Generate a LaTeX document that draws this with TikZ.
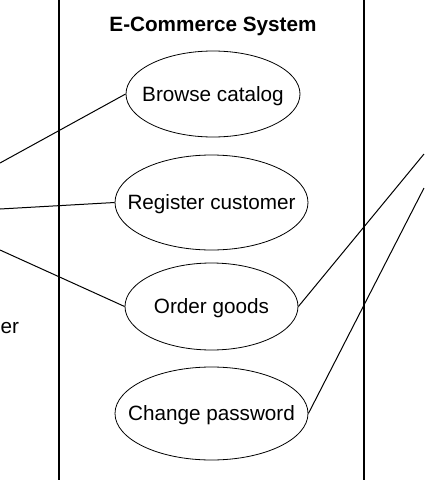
\documentclass[tikz,border=0pt]{standalone}
\usepackage{fontspec}
\setmainfont{Liberation Sans}
\usetikzlibrary{shapes.geometric}
\begin{document}
\begin{tikzpicture}[x=1pt,y=-1pt,
  usecase/.style={draw, ellipse, line width=0.8pt, inner xsep=-20pt, inner ysep=0pt, text height=14.8pt, text depth=0pt, font=\fontsize{20.7}{24}\selectfont},
  boundary/.style={line width=1.1pt},
  assoc/.style={line width=1pt},
  lbl/.style={font=\fontsize{20.7}{24}\selectfont, inner sep=0pt}]
\useasboundingbox (0,0) rectangle (424,480);
\coordinate (bt1) at (59,0);
\coordinate (bb1) at (59,480);
\coordinate (bt2) at (364,0);
\coordinate (bb2) at (364,480);
\draw[boundary] (bt1) -- (bb1);
\draw[boundary] (bt2) -- (bb2);
\node[lbl, font=\fontsize{20.7}{24}\selectfont\bfseries, anchor=base] (title) at (213,31) {E-Commerce System};
\node[usecase, minimum width=174pt, minimum height=86pt] (browse) at (213,94) {Browse catalog};
\node[usecase, minimum width=193pt, minimum height=95pt] (register) at (211.5,202.5) {Register customer};
\node[usecase, minimum width=173pt, minimum height=87pt] (order) at (211.5,306.5) {Order goods};
\node[usecase, minimum width=193pt, minimum height=93pt] (change) at (211.5,413.5) {Change password};
\node[lbl, anchor=base west] (cust) at (0.5,333) {er};
\coordinate (l1) at (0,163);
\coordinate (l2) at (0,209);
\coordinate (l3) at (0,250);
\coordinate (r1) at (424,154);
\coordinate (r2) at (424,188);
\draw[assoc] (l1) -- (browse.west);
\draw[assoc] (l2) -- (register.west);
\draw[assoc] (l3) -- (order.west);
\draw[assoc] (order.east) -- (r1);
\draw[assoc] (change.east) -- (r2);
\end{tikzpicture}
\end{document}
